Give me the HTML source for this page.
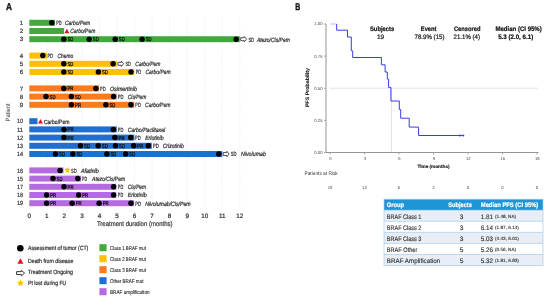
<!DOCTYPE html>
<html><head><meta charset="utf-8"><style>
html,body{margin:0;padding:0;background:#fff;}
body{width:550px;height:300px;overflow:hidden;}
svg{display:block;font-family:"Liberation Sans", sans-serif;will-change:transform;text-rendering:geometricPrecision;}
</style></head><body>
<svg width="550" height="300" viewBox="0 0 550 300">
<rect width="550" height="300" fill="#fff"/>
<text x="6.0" y="9.75" font-size="9.8" font-weight="bold" textLength="6.0" lengthAdjust="spacingAndGlyphs" fill="#111" stroke="#111" stroke-width="0.35">A</text>
<line x1="46.84" y1="17.50" x2="46.84" y2="207.00" stroke="#e2e2e2" stroke-width="0.6" stroke-dasharray="1.2 1.2"/>
<line x1="64.38" y1="17.50" x2="64.38" y2="207.00" stroke="#e2e2e2" stroke-width="0.6" stroke-dasharray="1.2 1.2"/>
<line x1="81.92" y1="17.50" x2="81.92" y2="207.00" stroke="#e2e2e2" stroke-width="0.6" stroke-dasharray="1.2 1.2"/>
<line x1="99.46" y1="17.50" x2="99.46" y2="207.00" stroke="#e2e2e2" stroke-width="0.6" stroke-dasharray="1.2 1.2"/>
<line x1="117.00" y1="17.50" x2="117.00" y2="207.00" stroke="#e2e2e2" stroke-width="0.6" stroke-dasharray="1.2 1.2"/>
<line x1="134.54" y1="17.50" x2="134.54" y2="207.00" stroke="#e2e2e2" stroke-width="0.6" stroke-dasharray="1.2 1.2"/>
<line x1="152.08" y1="17.50" x2="152.08" y2="207.00" stroke="#e2e2e2" stroke-width="0.6" stroke-dasharray="1.2 1.2"/>
<line x1="169.62" y1="17.50" x2="169.62" y2="207.00" stroke="#e2e2e2" stroke-width="0.6" stroke-dasharray="1.2 1.2"/>
<line x1="187.16" y1="17.50" x2="187.16" y2="207.00" stroke="#e2e2e2" stroke-width="0.6" stroke-dasharray="1.2 1.2"/>
<line x1="204.70" y1="17.50" x2="204.70" y2="207.00" stroke="#e2e2e2" stroke-width="0.6" stroke-dasharray="1.2 1.2"/>
<line x1="222.24" y1="17.50" x2="222.24" y2="207.00" stroke="#e2e2e2" stroke-width="0.6" stroke-dasharray="1.2 1.2"/>
<line x1="239.78" y1="17.50" x2="239.78" y2="207.00" stroke="#e2e2e2" stroke-width="0.6" stroke-dasharray="1.2 1.2"/>
<text x="23.20" y="25.03" font-size="6.2" text-anchor="end" fill="#3a3a3a" stroke="#3a3a3a" stroke-width="0.22">1</text>
<rect x="29.30" y="19.80" width="25.70" height="6.00" fill="#43a93c"/>
<circle cx="51.80" cy="22.80" r="2.75" fill="#000"/>
<text x="56.20" y="25.25" font-size="6.1" textLength="5.40" lengthAdjust="spacingAndGlyphs" fill="#2a2a2a" stroke="#2a2a2a" stroke-width="0.22">PD</text>
<text x="65.00" y="25.28" font-size="6.2" font-style="italic" textLength="25.10" lengthAdjust="spacingAndGlyphs" fill="#2a2a2a" stroke="#2a2a2a" stroke-width="0.22">Carbo/Pem</text>
<text x="23.20" y="33.23" font-size="6.2" text-anchor="end" fill="#3a3a3a" stroke="#3a3a3a" stroke-width="0.22">2</text>
<rect x="29.30" y="28.00" width="34.70" height="6.00" fill="#43a93c"/>
<polygon points="66.90,28.75 69.40,33.25 64.40,33.25" fill="#e8141b"/>
<text x="70.20" y="33.48" font-size="6.2" font-style="italic" textLength="25.10" lengthAdjust="spacingAndGlyphs" fill="#2a2a2a" stroke="#2a2a2a" stroke-width="0.22">Carbo/Pem</text>
<text x="23.20" y="41.43" font-size="6.2" text-anchor="end" fill="#3a3a3a" stroke="#3a3a3a" stroke-width="0.22">3</text>
<rect x="29.30" y="36.20" width="210.50" height="6.00" fill="#43a93c"/>
<circle cx="63.80" cy="39.20" r="2.75" fill="#000"/>
<text x="67.40" y="41.13" font-size="5.6" textLength="5.90" lengthAdjust="spacingAndGlyphs" fill="#111" stroke="#111" stroke-width="0.3">SD</text>
<circle cx="89.20" cy="39.20" r="2.75" fill="#000"/>
<text x="92.80" y="41.13" font-size="5.6" textLength="5.90" lengthAdjust="spacingAndGlyphs" fill="#111" stroke="#111" stroke-width="0.3">SD</text>
<circle cx="115.20" cy="39.20" r="2.75" fill="#000"/>
<text x="118.80" y="41.13" font-size="5.6" textLength="5.90" lengthAdjust="spacingAndGlyphs" fill="#111" stroke="#111" stroke-width="0.3">SD</text>
<circle cx="142.10" cy="39.20" r="2.75" fill="#000"/>
<text x="145.70" y="41.13" font-size="5.6" textLength="5.90" lengthAdjust="spacingAndGlyphs" fill="#111" stroke="#111" stroke-width="0.3">SD</text>
<circle cx="236.20" cy="39.20" r="2.75" fill="#000"/>
<polygon points="240.70,37.74 244.24,37.74 244.24,36.50 246.60,39.20 244.24,41.90 244.24,40.66 240.70,40.66" fill="#fff" stroke="#333" stroke-width="0.85" stroke-linejoin="round"/>
<text x="248.40" y="41.65" font-size="6.1" textLength="5.60" lengthAdjust="spacingAndGlyphs" fill="#2a2a2a" stroke="#2a2a2a" stroke-width="0.22">SD</text>
<text x="256.90" y="41.68" font-size="6.2" font-style="italic" textLength="32.90" lengthAdjust="spacingAndGlyphs" fill="#2a2a2a" stroke="#2a2a2a" stroke-width="0.22">Atezo/Cis/Pem</text>
<text x="23.20" y="57.83" font-size="6.2" text-anchor="end" fill="#3a3a3a" stroke="#3a3a3a" stroke-width="0.22">4</text>
<rect x="29.30" y="52.60" width="17.70" height="6.00" fill="#ffc000"/>
<circle cx="42.80" cy="55.60" r="2.75" fill="#000"/>
<text x="47.40" y="58.05" font-size="6.1" textLength="5.60" lengthAdjust="spacingAndGlyphs" fill="#2a2a2a" stroke="#2a2a2a" stroke-width="0.22">PD</text>
<text x="57.50" y="58.08" font-size="6.2" font-style="italic" textLength="15.70" lengthAdjust="spacingAndGlyphs" fill="#2a2a2a" stroke="#2a2a2a" stroke-width="0.22">Chemo</text>
<text x="23.20" y="66.03" font-size="6.2" text-anchor="end" fill="#3a3a3a" stroke="#3a3a3a" stroke-width="0.22">5</text>
<rect x="29.30" y="60.80" width="87.60" height="6.00" fill="#ffc000"/>
<circle cx="63.80" cy="63.80" r="2.75" fill="#000"/>
<text x="67.40" y="65.73" font-size="5.6" textLength="5.90" lengthAdjust="spacingAndGlyphs" fill="#111" stroke="#111" stroke-width="0.3">SD</text>
<circle cx="113.10" cy="63.80" r="2.75" fill="#000"/>
<polygon points="117.90,62.34 121.38,62.34 121.38,61.10 123.70,63.80 121.38,66.50 121.38,65.26 117.90,65.26" fill="#fff" stroke="#333" stroke-width="0.85" stroke-linejoin="round"/>
<text x="125.50" y="66.25" font-size="6.1" textLength="5.40" lengthAdjust="spacingAndGlyphs" fill="#2a2a2a" stroke="#2a2a2a" stroke-width="0.22">SD</text>
<text x="135.30" y="66.28" font-size="6.2" font-style="italic" textLength="25.20" lengthAdjust="spacingAndGlyphs" fill="#2a2a2a" stroke="#2a2a2a" stroke-width="0.22">Carbo/Pem</text>
<text x="23.20" y="74.23" font-size="6.2" text-anchor="end" fill="#3a3a3a" stroke="#3a3a3a" stroke-width="0.22">6</text>
<rect x="29.30" y="69.00" width="104.90" height="6.00" fill="#ffc000"/>
<circle cx="63.80" cy="72.00" r="2.75" fill="#000"/>
<text x="67.40" y="73.93" font-size="5.6" textLength="5.90" lengthAdjust="spacingAndGlyphs" fill="#111" stroke="#111" stroke-width="0.3">SD</text>
<circle cx="98.40" cy="72.00" r="2.75" fill="#000"/>
<text x="102.00" y="73.93" font-size="5.6" textLength="5.90" lengthAdjust="spacingAndGlyphs" fill="#111" stroke="#111" stroke-width="0.3">SD</text>
<circle cx="131.00" cy="72.00" r="2.75" fill="#000"/>
<text x="135.70" y="74.45" font-size="6.1" textLength="5.40" lengthAdjust="spacingAndGlyphs" fill="#2a2a2a" stroke="#2a2a2a" stroke-width="0.22">PD</text>
<text x="145.50" y="74.48" font-size="6.2" font-style="italic" textLength="25.10" lengthAdjust="spacingAndGlyphs" fill="#2a2a2a" stroke="#2a2a2a" stroke-width="0.22">Carbo/Pem</text>
<text x="23.20" y="90.63" font-size="6.2" text-anchor="end" fill="#3a3a3a" stroke="#3a3a3a" stroke-width="0.22">7</text>
<rect x="29.30" y="85.40" width="69.70" height="6.00" fill="#f97a1f"/>
<circle cx="63.80" cy="88.40" r="2.75" fill="#000"/>
<text x="67.40" y="90.33" font-size="5.6" textLength="6.00" lengthAdjust="spacingAndGlyphs" fill="#111" stroke="#111" stroke-width="0.3">PR</text>
<circle cx="95.90" cy="88.40" r="2.75" fill="#000"/>
<text x="100.00" y="90.85" font-size="6.1" textLength="5.60" lengthAdjust="spacingAndGlyphs" fill="#2a2a2a" stroke="#2a2a2a" stroke-width="0.22">PD</text>
<text x="109.90" y="90.88" font-size="6.2" font-style="italic" textLength="27.00" lengthAdjust="spacingAndGlyphs" fill="#2a2a2a" stroke="#2a2a2a" stroke-width="0.22">Osimertinib</text>
<text x="23.20" y="98.83" font-size="6.2" text-anchor="end" fill="#3a3a3a" stroke="#3a3a3a" stroke-width="0.22">8</text>
<rect x="29.30" y="93.60" width="87.30" height="6.00" fill="#f97a1f"/>
<circle cx="46.00" cy="96.60" r="2.75" fill="#000"/>
<text x="49.60" y="98.53" font-size="5.6" textLength="5.90" lengthAdjust="spacingAndGlyphs" fill="#111" stroke="#111" stroke-width="0.3">SD</text>
<circle cx="71.40" cy="96.60" r="2.75" fill="#000"/>
<text x="75.00" y="98.53" font-size="5.6" textLength="5.90" lengthAdjust="spacingAndGlyphs" fill="#111" stroke="#111" stroke-width="0.3">SD</text>
<circle cx="113.60" cy="96.60" r="2.75" fill="#000"/>
<text x="117.70" y="99.05" font-size="6.1" textLength="5.80" lengthAdjust="spacingAndGlyphs" fill="#2a2a2a" stroke="#2a2a2a" stroke-width="0.22">PD</text>
<text x="127.80" y="99.08" font-size="6.2" font-style="italic" textLength="18.40" lengthAdjust="spacingAndGlyphs" fill="#2a2a2a" stroke="#2a2a2a" stroke-width="0.22">Cis/Pem</text>
<text x="23.20" y="107.03" font-size="6.2" text-anchor="end" fill="#3a3a3a" stroke="#3a3a3a" stroke-width="0.22">9</text>
<rect x="29.30" y="101.80" width="104.90" height="6.00" fill="#f97a1f"/>
<circle cx="71.40" cy="104.80" r="2.75" fill="#000"/>
<text x="75.00" y="106.73" font-size="5.6" textLength="6.00" lengthAdjust="spacingAndGlyphs" fill="#111" stroke="#111" stroke-width="0.3">PR</text>
<circle cx="105.90" cy="104.80" r="2.75" fill="#000"/>
<text x="109.50" y="106.73" font-size="5.6" textLength="5.90" lengthAdjust="spacingAndGlyphs" fill="#111" stroke="#111" stroke-width="0.3">SD</text>
<circle cx="130.90" cy="104.80" r="2.75" fill="#000"/>
<text x="135.30" y="107.25" font-size="6.1" textLength="5.40" lengthAdjust="spacingAndGlyphs" fill="#2a2a2a" stroke="#2a2a2a" stroke-width="0.22">PD</text>
<text x="145.10" y="107.28" font-size="6.2" font-style="italic" textLength="25.30" lengthAdjust="spacingAndGlyphs" fill="#2a2a2a" stroke="#2a2a2a" stroke-width="0.22">Carbo/Pem</text>
<text x="23.20" y="123.43" font-size="6.2" text-anchor="end" textLength="6.20" lengthAdjust="spacingAndGlyphs" fill="#3a3a3a" stroke="#3a3a3a" stroke-width="0.22">10</text>
<rect x="29.30" y="118.20" width="8.20" height="6.00" fill="#1e6fcf"/>
<polygon points="40.50,118.95 43.00,123.45 38.00,123.45" fill="#e8141b"/>
<text x="43.90" y="123.65" font-size="6.1" textLength="25.60" lengthAdjust="spacingAndGlyphs" fill="#2a2a2a" stroke="#2a2a2a" stroke-width="0.22">Carbo/Pem</text>
<text x="23.20" y="131.63" font-size="6.2" text-anchor="end" textLength="6.20" lengthAdjust="spacingAndGlyphs" fill="#3a3a3a" stroke="#3a3a3a" stroke-width="0.22">11</text>
<rect x="29.30" y="126.40" width="87.50" height="6.00" fill="#1e6fcf"/>
<circle cx="64.00" cy="129.40" r="2.75" fill="#000"/>
<text x="67.60" y="131.33" font-size="5.6" textLength="6.00" lengthAdjust="spacingAndGlyphs" fill="#111" stroke="#111" stroke-width="0.3">PR</text>
<circle cx="113.40" cy="129.40" r="2.75" fill="#000"/>
<text x="117.80" y="131.85" font-size="6.1" textLength="5.60" lengthAdjust="spacingAndGlyphs" fill="#2a2a2a" stroke="#2a2a2a" stroke-width="0.22">PD</text>
<text x="127.70" y="131.88" font-size="6.2" font-style="italic" textLength="37.50" lengthAdjust="spacingAndGlyphs" fill="#2a2a2a" stroke="#2a2a2a" stroke-width="0.22">Carbo/Paclitaxel</text>
<text x="23.20" y="139.83" font-size="6.2" text-anchor="end" textLength="6.20" lengthAdjust="spacingAndGlyphs" fill="#3a3a3a" stroke="#3a3a3a" stroke-width="0.22">12</text>
<rect x="29.30" y="134.60" width="105.10" height="6.00" fill="#1e6fcf"/>
<circle cx="64.00" cy="137.60" r="2.75" fill="#000"/>
<text x="67.60" y="139.53" font-size="5.6" textLength="6.00" lengthAdjust="spacingAndGlyphs" fill="#111" stroke="#111" stroke-width="0.3">PR</text>
<circle cx="114.90" cy="137.60" r="2.75" fill="#000"/>
<text x="118.50" y="139.53" font-size="5.6" textLength="6.00" lengthAdjust="spacingAndGlyphs" fill="#111" stroke="#111" stroke-width="0.3">PR</text>
<circle cx="130.70" cy="137.60" r="2.75" fill="#000"/>
<text x="135.00" y="140.05" font-size="6.1" textLength="5.60" lengthAdjust="spacingAndGlyphs" fill="#2a2a2a" stroke="#2a2a2a" stroke-width="0.22">PD</text>
<text x="145.20" y="140.08" font-size="6.2" font-style="italic" textLength="18.40" lengthAdjust="spacingAndGlyphs" fill="#2a2a2a" stroke="#2a2a2a" stroke-width="0.22">Erlotinib</text>
<text x="23.20" y="148.03" font-size="6.2" text-anchor="end" textLength="6.20" lengthAdjust="spacingAndGlyphs" fill="#3a3a3a" stroke="#3a3a3a" stroke-width="0.22">13</text>
<rect x="29.30" y="142.80" width="122.50" height="6.00" fill="#1e6fcf"/>
<circle cx="80.50" cy="145.80" r="2.75" fill="#000"/>
<text x="84.10" y="147.73" font-size="5.6" textLength="5.90" lengthAdjust="spacingAndGlyphs" fill="#111" stroke="#111" stroke-width="0.3">SD</text>
<circle cx="98.20" cy="145.80" r="2.75" fill="#000"/>
<text x="101.80" y="147.73" font-size="5.6" textLength="5.90" lengthAdjust="spacingAndGlyphs" fill="#111" stroke="#111" stroke-width="0.3">SD</text>
<circle cx="115.50" cy="145.80" r="2.75" fill="#000"/>
<text x="119.10" y="147.73" font-size="5.6" textLength="5.90" lengthAdjust="spacingAndGlyphs" fill="#111" stroke="#111" stroke-width="0.3">SD</text>
<circle cx="133.70" cy="145.80" r="2.75" fill="#000"/>
<text x="137.30" y="147.73" font-size="5.6" textLength="6.00" lengthAdjust="spacingAndGlyphs" fill="#111" stroke="#111" stroke-width="0.3">PR</text>
<circle cx="148.30" cy="145.80" r="2.75" fill="#000"/>
<text x="152.90" y="148.25" font-size="6.1" textLength="5.80" lengthAdjust="spacingAndGlyphs" fill="#2a2a2a" stroke="#2a2a2a" stroke-width="0.22">PD</text>
<text x="162.70" y="148.28" font-size="6.2" font-style="italic" textLength="21.10" lengthAdjust="spacingAndGlyphs" fill="#2a2a2a" stroke="#2a2a2a" stroke-width="0.22">Crizotinib</text>
<text x="23.20" y="156.23" font-size="6.2" text-anchor="end" textLength="6.20" lengthAdjust="spacingAndGlyphs" fill="#3a3a3a" stroke="#3a3a3a" stroke-width="0.22">14</text>
<rect x="29.30" y="151.00" width="193.00" height="6.00" fill="#1e6fcf"/>
<circle cx="55.50" cy="154.00" r="2.75" fill="#000"/>
<text x="59.10" y="155.93" font-size="5.6" textLength="5.90" lengthAdjust="spacingAndGlyphs" fill="#111" stroke="#111" stroke-width="0.3">SD</text>
<circle cx="72.80" cy="154.00" r="2.75" fill="#000"/>
<text x="76.40" y="155.93" font-size="5.6" textLength="5.90" lengthAdjust="spacingAndGlyphs" fill="#111" stroke="#111" stroke-width="0.3">SD</text>
<circle cx="106.80" cy="154.00" r="2.75" fill="#000"/>
<text x="110.40" y="155.93" font-size="5.6" textLength="5.90" lengthAdjust="spacingAndGlyphs" fill="#111" stroke="#111" stroke-width="0.3">SD</text>
<circle cx="125.70" cy="154.00" r="2.75" fill="#000"/>
<text x="129.30" y="155.93" font-size="5.6" textLength="5.90" lengthAdjust="spacingAndGlyphs" fill="#111" stroke="#111" stroke-width="0.3">SD</text>
<circle cx="218.80" cy="154.00" r="2.75" fill="#000"/>
<polygon points="223.20,152.54 226.80,152.54 226.80,151.30 229.20,154.00 226.80,156.70 226.80,155.46 223.20,155.46" fill="#fff" stroke="#333" stroke-width="0.85" stroke-linejoin="round"/>
<text x="230.80" y="156.45" font-size="6.1" textLength="5.80" lengthAdjust="spacingAndGlyphs" fill="#2a2a2a" stroke="#2a2a2a" stroke-width="0.22">SD</text>
<text x="241.00" y="156.48" font-size="6.2" font-style="italic" textLength="24.90" lengthAdjust="spacingAndGlyphs" fill="#2a2a2a" stroke="#2a2a2a" stroke-width="0.22">Nivolumab</text>
<text x="23.20" y="172.63" font-size="6.2" text-anchor="end" textLength="6.20" lengthAdjust="spacingAndGlyphs" fill="#3a3a3a" stroke="#3a3a3a" stroke-width="0.22">16</text>
<rect x="29.30" y="167.40" width="34.20" height="6.00" fill="#b56be0"/>
<circle cx="60.10" cy="170.40" r="2.75" fill="#000"/>
<polygon points="67.40,166.90 68.34,168.81 70.44,169.11 68.92,170.59 69.28,172.69 67.40,171.70 65.52,172.69 65.88,170.59 64.36,169.11 66.46,168.81" fill="#ffc000"/>
<text x="71.00" y="172.85" font-size="6.1" textLength="5.60" lengthAdjust="spacingAndGlyphs" fill="#2a2a2a" stroke="#2a2a2a" stroke-width="0.22">SD</text>
<text x="80.90" y="172.88" font-size="6.2" font-style="italic" textLength="17.90" lengthAdjust="spacingAndGlyphs" fill="#2a2a2a" stroke="#2a2a2a" stroke-width="0.22">Afatinib</text>
<text x="23.20" y="180.83" font-size="6.2" text-anchor="end" textLength="6.20" lengthAdjust="spacingAndGlyphs" fill="#3a3a3a" stroke="#3a3a3a" stroke-width="0.22">15</text>
<rect x="29.30" y="175.60" width="51.60" height="6.00" fill="#b56be0"/>
<circle cx="53.00" cy="178.60" r="2.75" fill="#000"/>
<text x="56.60" y="180.53" font-size="5.6" textLength="5.90" lengthAdjust="spacingAndGlyphs" fill="#111" stroke="#111" stroke-width="0.3">SD</text>
<circle cx="77.80" cy="178.60" r="2.75" fill="#000"/>
<text x="82.10" y="181.05" font-size="6.1" textLength="5.20" lengthAdjust="spacingAndGlyphs" fill="#2a2a2a" stroke="#2a2a2a" stroke-width="0.22">PD</text>
<text x="92.10" y="181.08" font-size="6.2" font-style="italic" textLength="33.00" lengthAdjust="spacingAndGlyphs" fill="#2a2a2a" stroke="#2a2a2a" stroke-width="0.22">Atezo/Cis/Pem</text>
<text x="23.20" y="189.03" font-size="6.2" text-anchor="end" textLength="6.20" lengthAdjust="spacingAndGlyphs" fill="#3a3a3a" stroke="#3a3a3a" stroke-width="0.22">17</text>
<rect x="29.30" y="183.80" width="86.90" height="6.00" fill="#b56be0"/>
<circle cx="64.00" cy="186.80" r="2.75" fill="#000"/>
<text x="67.60" y="188.73" font-size="5.6" textLength="6.00" lengthAdjust="spacingAndGlyphs" fill="#111" stroke="#111" stroke-width="0.3">PR</text>
<circle cx="113.60" cy="186.80" r="2.75" fill="#000"/>
<text x="117.80" y="189.25" font-size="6.1" textLength="5.40" lengthAdjust="spacingAndGlyphs" fill="#2a2a2a" stroke="#2a2a2a" stroke-width="0.22">PD</text>
<text x="127.80" y="189.28" font-size="6.2" font-style="italic" textLength="18.30" lengthAdjust="spacingAndGlyphs" fill="#2a2a2a" stroke="#2a2a2a" stroke-width="0.22">Cis/Pem</text>
<text x="23.20" y="197.23" font-size="6.2" text-anchor="end" textLength="6.20" lengthAdjust="spacingAndGlyphs" fill="#3a3a3a" stroke="#3a3a3a" stroke-width="0.22">18</text>
<rect x="29.30" y="192.00" width="86.90" height="6.00" fill="#b56be0"/>
<circle cx="46.60" cy="195.00" r="2.75" fill="#000"/>
<text x="50.20" y="196.93" font-size="5.6" textLength="6.00" lengthAdjust="spacingAndGlyphs" fill="#111" stroke="#111" stroke-width="0.3">PR</text>
<circle cx="78.60" cy="195.00" r="2.75" fill="#000"/>
<text x="82.20" y="196.93" font-size="5.6" textLength="6.00" lengthAdjust="spacingAndGlyphs" fill="#111" stroke="#111" stroke-width="0.3">PR</text>
<circle cx="113.60" cy="195.00" r="2.75" fill="#000"/>
<text x="117.80" y="197.45" font-size="6.1" textLength="5.40" lengthAdjust="spacingAndGlyphs" fill="#2a2a2a" stroke="#2a2a2a" stroke-width="0.22">PD</text>
<text x="127.80" y="197.48" font-size="6.2" font-style="italic" textLength="18.90" lengthAdjust="spacingAndGlyphs" fill="#2a2a2a" stroke="#2a2a2a" stroke-width="0.22">Erlotinib</text>
<text x="23.20" y="205.43" font-size="6.2" text-anchor="end" textLength="6.20" lengthAdjust="spacingAndGlyphs" fill="#3a3a3a" stroke="#3a3a3a" stroke-width="0.22">19</text>
<rect x="29.30" y="200.20" width="104.70" height="6.00" fill="#b56be0"/>
<circle cx="46.60" cy="203.20" r="2.75" fill="#000"/>
<text x="50.20" y="205.13" font-size="5.6" textLength="6.00" lengthAdjust="spacingAndGlyphs" fill="#111" stroke="#111" stroke-width="0.3">PR</text>
<circle cx="72.10" cy="203.20" r="2.75" fill="#000"/>
<text x="75.70" y="205.13" font-size="5.6" textLength="6.00" lengthAdjust="spacingAndGlyphs" fill="#111" stroke="#111" stroke-width="0.3">PR</text>
<circle cx="99.10" cy="203.20" r="2.75" fill="#000"/>
<text x="102.70" y="205.13" font-size="5.6" textLength="6.00" lengthAdjust="spacingAndGlyphs" fill="#111" stroke="#111" stroke-width="0.3">PR</text>
<circle cx="130.90" cy="203.20" r="2.75" fill="#000"/>
<text x="135.20" y="205.65" font-size="6.1" textLength="5.80" lengthAdjust="spacingAndGlyphs" fill="#2a2a2a" stroke="#2a2a2a" stroke-width="0.22">PD</text>
<text x="145.20" y="205.68" font-size="6.2" font-style="italic" textLength="45.50" lengthAdjust="spacingAndGlyphs" fill="#2a2a2a" stroke="#2a2a2a" stroke-width="0.22">Nivolumab/Cis/Pem</text>
<text x="0" y="0" font-size="6.2" fill="#333" text-anchor="middle" transform="translate(9.9,112.4) rotate(-90)" textLength="18" lengthAdjust="spacingAndGlyphs">Patient</text>
<text x="29.30" y="217.87" font-size="6.3" text-anchor="middle" fill="#333" stroke="#333" stroke-width="0.22">0</text>
<text x="46.84" y="217.87" font-size="6.3" text-anchor="middle" fill="#333" stroke="#333" stroke-width="0.22">1</text>
<text x="64.38" y="217.87" font-size="6.3" text-anchor="middle" fill="#333" stroke="#333" stroke-width="0.22">2</text>
<text x="81.92" y="217.87" font-size="6.3" text-anchor="middle" fill="#333" stroke="#333" stroke-width="0.22">3</text>
<text x="99.46" y="217.87" font-size="6.3" text-anchor="middle" fill="#333" stroke="#333" stroke-width="0.22">4</text>
<text x="117.00" y="217.87" font-size="6.3" text-anchor="middle" fill="#333" stroke="#333" stroke-width="0.22">5</text>
<text x="134.54" y="217.87" font-size="6.3" text-anchor="middle" fill="#333" stroke="#333" stroke-width="0.22">6</text>
<text x="152.08" y="217.87" font-size="6.3" text-anchor="middle" fill="#333" stroke="#333" stroke-width="0.22">7</text>
<text x="169.62" y="217.87" font-size="6.3" text-anchor="middle" fill="#333" stroke="#333" stroke-width="0.22">8</text>
<text x="187.16" y="217.87" font-size="6.3" text-anchor="middle" fill="#333" stroke="#333" stroke-width="0.22">9</text>
<text x="204.70" y="217.87" font-size="6.3" text-anchor="middle" fill="#333" stroke="#333" stroke-width="0.22">10</text>
<text x="222.24" y="217.87" font-size="6.3" text-anchor="middle" fill="#333" stroke="#333" stroke-width="0.22">11</text>
<text x="239.78" y="217.87" font-size="6.3" text-anchor="middle" fill="#333" stroke="#333" stroke-width="0.22">12</text>
<text x="134.75" y="225.64" font-size="6.8" text-anchor="middle" textLength="75.70" lengthAdjust="spacingAndGlyphs" fill="#3c3c3c" stroke="#3c3c3c" stroke-width="0.22">Treatment duration (months)</text>
<circle cx="20.30" cy="248.30" r="3.3" fill="#000"/>
<text x="28.00" y="250.26" font-size="6.0" textLength="60.30" lengthAdjust="spacingAndGlyphs" fill="#333" stroke="#333" stroke-width="0.22">Assessment of tumor (CT)</text>
<polygon points="20.40,258.30 23.40,263.70 17.40,263.70" fill="#e8141b"/>
<text x="28.00" y="262.56" font-size="6.0" textLength="45.30" lengthAdjust="spacingAndGlyphs" fill="#333" stroke="#333" stroke-width="0.22">Death from disease</text>
<polygon points="16.60,271.64 21.40,271.64 21.40,270.40 24.60,273.10 21.40,275.80 21.40,274.56 16.60,274.56" fill="#fff" stroke="#333" stroke-width="1.0" stroke-linejoin="round"/>
<text x="28.00" y="274.26" font-size="6.0" textLength="45.00" lengthAdjust="spacingAndGlyphs" fill="#333" stroke="#333" stroke-width="0.22">Treatment Ongoing</text>
<polygon points="20.50,279.50 21.56,281.64 23.92,281.99 22.21,283.66 22.62,286.01 20.50,284.90 18.38,286.01 18.79,283.66 17.08,281.99 19.44,281.64" fill="#ffc000"/>
<text x="28.00" y="285.06" font-size="6.0" textLength="38.30" lengthAdjust="spacingAndGlyphs" fill="#333" stroke="#333" stroke-width="0.22">Pt lost during FU</text>
<rect x="99.40" y="244.20" width="7.20" height="7.00" fill="#43a93c"/>
<text x="110.00" y="249.93" font-size="5.6" textLength="36.00" lengthAdjust="spacingAndGlyphs" fill="#3a3a3a" stroke="#3a3a3a" stroke-width="0.15">Class 1 BRAF mut</text>
<rect x="99.40" y="255.20" width="7.20" height="7.00" fill="#ffc000"/>
<text x="110.00" y="260.93" font-size="5.6" textLength="36.00" lengthAdjust="spacingAndGlyphs" fill="#3a3a3a" stroke="#3a3a3a" stroke-width="0.15">Class 2 BRAF mut</text>
<rect x="99.40" y="266.20" width="7.20" height="7.00" fill="#f97a1f"/>
<text x="110.00" y="271.93" font-size="5.6" textLength="36.00" lengthAdjust="spacingAndGlyphs" fill="#3a3a3a" stroke="#3a3a3a" stroke-width="0.15">Class 3 BRAF mut</text>
<rect x="99.40" y="277.20" width="7.20" height="7.00" fill="#1e6fcf"/>
<text x="110.00" y="282.93" font-size="5.6" textLength="33.40" lengthAdjust="spacingAndGlyphs" fill="#3a3a3a" stroke="#3a3a3a" stroke-width="0.15">Other BRAF mut</text>
<rect x="99.40" y="288.20" width="7.20" height="7.00" fill="#b56be0"/>
<text x="110.00" y="293.93" font-size="5.6" textLength="39.60" lengthAdjust="spacingAndGlyphs" fill="#3a3a3a" stroke="#3a3a3a" stroke-width="0.15">BRAF amplification</text>
<text x="295.2" y="9.75" font-size="9.8" font-weight="bold" textLength="5.0" lengthAdjust="spacingAndGlyphs" fill="#111" stroke="#111" stroke-width="0.35">B</text>
<line x1="330.00" y1="88.20" x2="538.00" y2="88.20" stroke="#d0d0d0" stroke-width="0.6"/>
<line x1="391.50" y1="88.20" x2="391.50" y2="152.50" stroke="#d0d0d0" stroke-width="0.6"/>
<line x1="326.00" y1="24.00" x2="326.00" y2="152.50" stroke="#8a8a8a" stroke-width="0.9"/>
<line x1="326.00" y1="152.50" x2="538.50" y2="152.50" stroke="#8a8a8a" stroke-width="0.9"/>
<line x1="324.00" y1="24.00" x2="326.00" y2="24.00" stroke="#8a8a8a" stroke-width="0.7"/>
<text x="322.50" y="25.44" font-size="4.2" text-anchor="end" fill="#444" stroke="#444" stroke-width="0.0">1.00</text>
<line x1="324.00" y1="56.12" x2="326.00" y2="56.12" stroke="#8a8a8a" stroke-width="0.7"/>
<text x="322.50" y="57.57" font-size="4.2" text-anchor="end" fill="#444" stroke="#444" stroke-width="0.0">0.75</text>
<line x1="324.00" y1="88.25" x2="326.00" y2="88.25" stroke="#8a8a8a" stroke-width="0.7"/>
<text x="322.50" y="89.69" font-size="4.2" text-anchor="end" fill="#444" stroke="#444" stroke-width="0.0">0.50</text>
<line x1="324.00" y1="120.38" x2="326.00" y2="120.38" stroke="#8a8a8a" stroke-width="0.7"/>
<text x="322.50" y="121.82" font-size="4.2" text-anchor="end" fill="#444" stroke="#444" stroke-width="0.0">0.25</text>
<line x1="324.00" y1="152.50" x2="326.00" y2="152.50" stroke="#8a8a8a" stroke-width="0.7"/>
<text x="322.50" y="153.94" font-size="4.2" text-anchor="end" fill="#444" stroke="#444" stroke-width="0.0">0.00</text>
<line x1="330.00" y1="152.50" x2="330.00" y2="154.50" stroke="#8a8a8a" stroke-width="0.7"/>
<text x="330.30" y="159.74" font-size="4.2" text-anchor="middle" fill="#444" stroke="#444" stroke-width="0.0">0</text>
<line x1="364.50" y1="152.50" x2="364.50" y2="154.50" stroke="#8a8a8a" stroke-width="0.7"/>
<text x="364.80" y="159.74" font-size="4.2" text-anchor="middle" fill="#444" stroke="#444" stroke-width="0.0">3</text>
<line x1="399.00" y1="152.50" x2="399.00" y2="154.50" stroke="#8a8a8a" stroke-width="0.7"/>
<text x="399.30" y="159.74" font-size="4.2" text-anchor="middle" fill="#444" stroke="#444" stroke-width="0.0">6</text>
<line x1="433.50" y1="152.50" x2="433.50" y2="154.50" stroke="#8a8a8a" stroke-width="0.7"/>
<text x="433.80" y="159.74" font-size="4.2" text-anchor="middle" fill="#444" stroke="#444" stroke-width="0.0">9</text>
<line x1="468.00" y1="152.50" x2="468.00" y2="154.50" stroke="#8a8a8a" stroke-width="0.7"/>
<text x="468.30" y="159.74" font-size="4.2" text-anchor="middle" fill="#444" stroke="#444" stroke-width="0.0">12</text>
<line x1="502.50" y1="152.50" x2="502.50" y2="154.50" stroke="#8a8a8a" stroke-width="0.7"/>
<text x="502.80" y="159.74" font-size="4.2" text-anchor="middle" fill="#444" stroke="#444" stroke-width="0.0">15</text>
<line x1="537.00" y1="152.50" x2="537.00" y2="154.50" stroke="#8a8a8a" stroke-width="0.7"/>
<text x="537.30" y="159.74" font-size="4.2" text-anchor="middle" fill="#444" stroke="#444" stroke-width="0.0">18</text>
<line x1="330.40" y1="24.00" x2="336.70" y2="24.00" stroke="#b4b4f8" stroke-width="1.0"/>
<polyline points="336.7,24 336.7,30.2 347.5,30.2 347.5,37 351.3,37 351.3,50.8 352.7,50.8 352.7,57.5 381.4,57.5 381.4,64.8 385.1,64.8 385.1,72 387.3,72 387.3,79.1 388.6,79.1 388.6,87.4 390.9,87.4 390.9,101 399.3,101 399.3,109.5 400.7,109.5 400.7,118.2 409.2,118.2 409.2,127.1 418.6,127.1 418.6,135.5 463.4,135.5" fill="none" stroke="#3a3af0" stroke-width="1.0"/>
<circle cx="357.00" cy="57.50" r="0.8" fill="#3a3af0"/>
<circle cx="459.80" cy="135.50" r="1.1" fill="#3a3af0"/>
<circle cx="463.20" cy="135.50" r="1.1" fill="#3a3af0"/>
<text x="0" y="0" font-size="5.0" font-weight="bold" fill="#222" stroke="#222" stroke-width="0.1" text-anchor="middle" transform="translate(308.6,87.5) rotate(-90)" textLength="39" lengthAdjust="spacingAndGlyphs">PFS Probability</text>
<text x="433.50" y="167.58" font-size="4.6" font-weight="bold" text-anchor="middle" textLength="32.10" lengthAdjust="spacingAndGlyphs" fill="#111" stroke="#111" stroke-width="0.12">Time (months)</text>
<text x="304.50" y="174.65" font-size="5.1" textLength="33.20" lengthAdjust="spacingAndGlyphs" fill="#333" stroke="#333" stroke-width="0.0">Patients at Risk</text>
<text x="330.00" y="188.74" font-size="4.2" text-anchor="middle" fill="#444" stroke="#444" stroke-width="0.0">19</text>
<text x="364.50" y="188.74" font-size="4.2" text-anchor="middle" fill="#444" stroke="#444" stroke-width="0.0">13</text>
<text x="399.00" y="188.74" font-size="4.2" text-anchor="middle" fill="#444" stroke="#444" stroke-width="0.0">6</text>
<text x="433.50" y="188.74" font-size="4.2" text-anchor="middle" fill="#444" stroke="#444" stroke-width="0.0">2</text>
<text x="468.00" y="188.74" font-size="4.2" text-anchor="middle" fill="#444" stroke="#444" stroke-width="0.0">0</text>
<text x="502.50" y="188.74" font-size="4.2" text-anchor="middle" fill="#444" stroke="#444" stroke-width="0.0">0</text>
<text x="537.00" y="188.74" font-size="4.2" text-anchor="middle" fill="#444" stroke="#444" stroke-width="0.0">0</text>
<text x="382.10" y="31.07" font-size="6.6" font-weight="bold" text-anchor="middle" textLength="24.20" lengthAdjust="spacingAndGlyphs" fill="#111" stroke="#111" stroke-width="0.2">Subjects</text>
<text x="380.50" y="38.80" font-size="6.4" text-anchor="middle" fill="#222" stroke="#222" stroke-width="0.22">19</text>
<text x="428.60" y="31.07" font-size="6.6" font-weight="bold" text-anchor="middle" textLength="15.50" lengthAdjust="spacingAndGlyphs" fill="#111" stroke="#111" stroke-width="0.2">Event</text>
<text x="429.50" y="38.80" font-size="6.4" text-anchor="middle" textLength="30.00" lengthAdjust="spacingAndGlyphs" fill="#222" stroke="#222" stroke-width="0.22">78.9% (15)</text>
<text x="467.20" y="31.07" font-size="6.6" font-weight="bold" text-anchor="middle" textLength="26.50" lengthAdjust="spacingAndGlyphs" fill="#111" stroke="#111" stroke-width="0.2">Censored</text>
<text x="466.80" y="38.80" font-size="6.4" text-anchor="middle" textLength="26.40" lengthAdjust="spacingAndGlyphs" fill="#222" stroke="#222" stroke-width="0.22">21.1% (4)</text>
<text x="518.60" y="31.07" font-size="6.6" font-weight="bold" text-anchor="middle" textLength="46.30" lengthAdjust="spacingAndGlyphs" fill="#111" stroke="#111" stroke-width="0.2">Median (CI 95%)</text>
<text x="515.70" y="38.80" font-size="6.4" font-weight="bold" text-anchor="middle" textLength="35.10" lengthAdjust="spacingAndGlyphs" fill="#111" stroke="#111" stroke-width="0.2">5.3 (2.0, 6.1)</text>
<rect x="384.00" y="199.20" width="159.00" height="11.00" fill="#1e95d4"/>
<rect x="384.00" y="210.20" width="159.00" height="11.07" fill="#e9edf5"/>
<line x1="384.00" y1="210.20" x2="543.00" y2="210.20" stroke="#9fcdee" stroke-width="0.7"/>
<text x="386.80" y="218.71" font-size="6.6" textLength="34.60" lengthAdjust="spacingAndGlyphs" fill="#333" stroke="#333" stroke-width="0.14">BRAF Class 1</text>
<text x="461.70" y="218.71" font-size="6.6" text-anchor="middle" fill="#333" stroke="#333" stroke-width="0.14">3</text>
<text x="480.80" y="218.71" font-size="6.6" textLength="12.20" lengthAdjust="spacingAndGlyphs" fill="#333" stroke="#333" stroke-width="0.14">1.81</text>
<text x="495.00" y="218.18" font-size="4.5" textLength="21.10" lengthAdjust="spacingAndGlyphs" fill="#333" stroke="#333" stroke-width="0.12">(1.48, NA)</text>
<rect x="384.00" y="221.27" width="159.00" height="11.07" fill="#ffffff"/>
<line x1="384.00" y1="221.27" x2="543.00" y2="221.27" stroke="#9fcdee" stroke-width="0.7"/>
<text x="386.80" y="229.78" font-size="6.6" textLength="34.60" lengthAdjust="spacingAndGlyphs" fill="#333" stroke="#333" stroke-width="0.14">BRAF Class 2</text>
<text x="461.70" y="229.78" font-size="6.6" text-anchor="middle" fill="#333" stroke="#333" stroke-width="0.14">3</text>
<text x="480.80" y="229.78" font-size="6.6" textLength="12.20" lengthAdjust="spacingAndGlyphs" fill="#333" stroke="#333" stroke-width="0.14">6.14</text>
<text x="495.00" y="229.25" font-size="4.5" textLength="23.90" lengthAdjust="spacingAndGlyphs" fill="#333" stroke="#333" stroke-width="0.12">(1.97, 6.14)</text>
<rect x="384.00" y="232.34" width="159.00" height="11.07" fill="#e9edf5"/>
<line x1="384.00" y1="232.34" x2="543.00" y2="232.34" stroke="#9fcdee" stroke-width="0.7"/>
<text x="386.80" y="240.85" font-size="6.6" textLength="34.60" lengthAdjust="spacingAndGlyphs" fill="#333" stroke="#333" stroke-width="0.14">BRAF Class 3</text>
<text x="461.70" y="240.85" font-size="6.6" text-anchor="middle" fill="#333" stroke="#333" stroke-width="0.14">3</text>
<text x="480.80" y="240.85" font-size="6.6" textLength="12.20" lengthAdjust="spacingAndGlyphs" fill="#333" stroke="#333" stroke-width="0.14">5.03</text>
<text x="495.00" y="240.32" font-size="4.5" textLength="23.90" lengthAdjust="spacingAndGlyphs" fill="#333" stroke="#333" stroke-width="0.12">(4.43, 6.01)</text>
<rect x="384.00" y="243.41" width="159.00" height="11.07" fill="#ffffff"/>
<line x1="384.00" y1="243.41" x2="543.00" y2="243.41" stroke="#9fcdee" stroke-width="0.7"/>
<text x="386.80" y="251.92" font-size="6.6" textLength="30.50" lengthAdjust="spacingAndGlyphs" fill="#333" stroke="#333" stroke-width="0.14">BRAF Other</text>
<text x="461.70" y="251.92" font-size="6.6" text-anchor="middle" fill="#333" stroke="#333" stroke-width="0.14">5</text>
<text x="480.80" y="251.92" font-size="6.6" textLength="12.20" lengthAdjust="spacingAndGlyphs" fill="#333" stroke="#333" stroke-width="0.14">5.26</text>
<text x="495.00" y="251.39" font-size="4.5" textLength="21.10" lengthAdjust="spacingAndGlyphs" fill="#333" stroke="#333" stroke-width="0.12">(0.56, NA)</text>
<rect x="384.00" y="254.48" width="159.00" height="11.07" fill="#e9edf5"/>
<line x1="384.00" y1="254.48" x2="543.00" y2="254.48" stroke="#9fcdee" stroke-width="0.7"/>
<text x="386.80" y="262.99" font-size="6.6" textLength="53.40" lengthAdjust="spacingAndGlyphs" fill="#333" stroke="#333" stroke-width="0.14">BRAF Amplification</text>
<text x="461.70" y="262.99" font-size="6.6" text-anchor="middle" fill="#333" stroke="#333" stroke-width="0.14">5</text>
<text x="480.80" y="262.99" font-size="6.6" textLength="12.20" lengthAdjust="spacingAndGlyphs" fill="#333" stroke="#333" stroke-width="0.14">5.32</text>
<text x="495.00" y="262.46" font-size="4.5" textLength="23.90" lengthAdjust="spacingAndGlyphs" fill="#333" stroke="#333" stroke-width="0.12">(1.81, 6.83)</text>
<rect x="384.00" y="199.2" width="159.00" height="66.35" fill="none" stroke="#9fcdee" stroke-width="0.7"/>
<text x="386.70" y="207.47" font-size="6.6" font-weight="bold" textLength="17.30" lengthAdjust="spacingAndGlyphs" fill="#fff" stroke="#fff" stroke-width="0.2">Group</text>
<text x="460.10" y="207.47" font-size="6.6" font-weight="bold" text-anchor="middle" textLength="23.60" lengthAdjust="spacingAndGlyphs" fill="#fff" stroke="#fff" stroke-width="0.2">Subjects</text>
<text x="480.80" y="207.47" font-size="6.6" font-weight="bold" textLength="57.50" lengthAdjust="spacingAndGlyphs" fill="#fff" stroke="#fff" stroke-width="0.2">Median PFS (CI 95%)</text>
</svg>
</body></html>
